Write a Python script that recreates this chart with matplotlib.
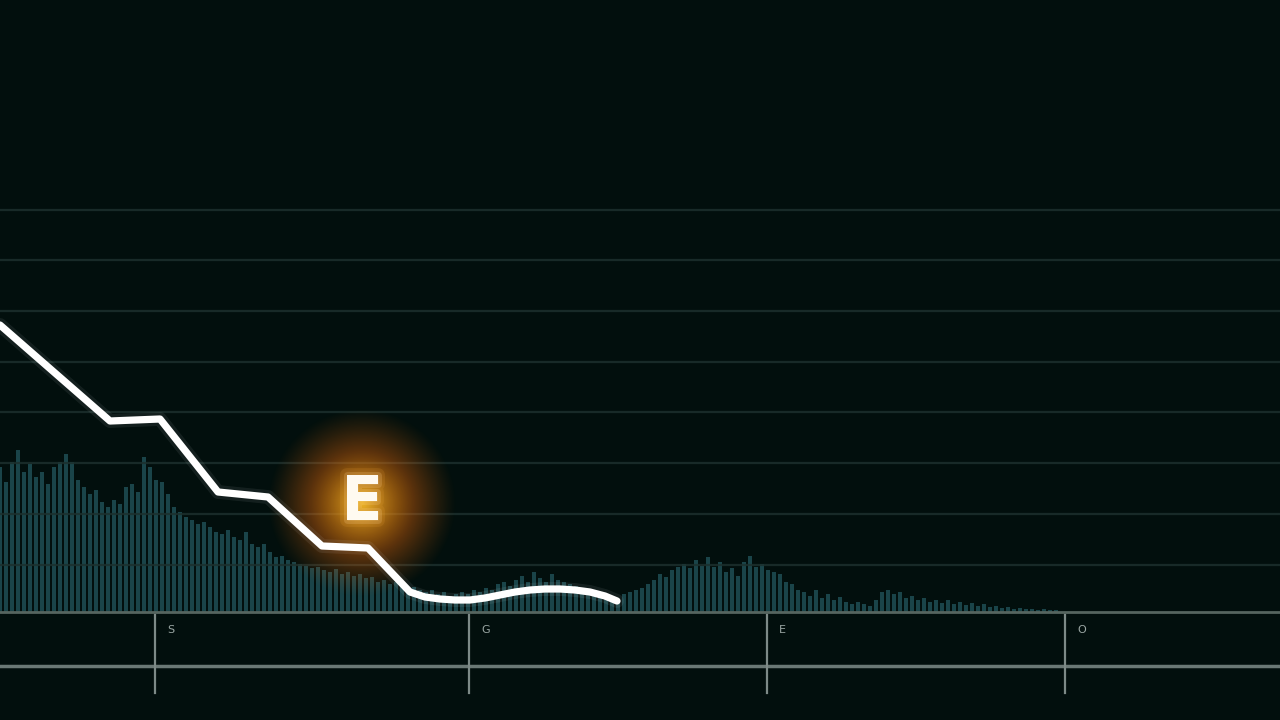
import numpy as np
import matplotlib
matplotlib.use("Agg")
import matplotlib.pyplot as plt
import matplotlib.patheffects as pe

# background histogram (bar position, height above baseline)
bar_x = list(range(0, 1062, 6))
bar_h = [145, 130, 150, 162, 140, 148, 135, 140, 128, 145, 150, 158, 150, 132, 125, 118,
         122, 110, 105, 112, 108, 125, 128, 120, 155, 145, 132, 130, 118, 105, 100, 95,
         92, 88, 90, 85, 80, 78, 82, 75, 72, 80, 68, 65, 68, 60, 55, 56, 52, 50,
         48, 46, 44, 45, 42, 40, 43, 38, 40, 36, 38, 34, 35, 30, 32, 28, 30, 26,
         24, 25, 22, 20, 22, 18, 20, 16, 18, 20, 18, 22, 20, 24, 22, 28, 30, 26,
         32, 36, 30, 40, 34, 30, 38, 32, 30, 28, 26, 24, 22, 20, 18, 16, 15, 12,
         18, 20, 22, 24, 28, 32, 38, 35, 42, 45, 48, 44, 52, 46, 55, 45, 50, 40,
         44, 36, 50, 56, 45, 48, 42, 40, 38, 30, 28, 22, 20, 16, 22, 14, 18, 12,
         15, 10, 8, 10, 8, 6, 12, 20, 22, 18, 20, 14, 16, 12, 14, 10, 12, 9,
         12, 8, 10, 7, 9, 6, 8, 5, 6, 4, 5, 3, 4, 3, 3, 2, 3, 2, 2]
bar_h = bar_h[:len(bar_x)]

# main curve
line_x = [0, 110, 160, 218, 268, 322, 368, 410, 425, 440, 455, 470, 485, 500, 515,
          530, 545, 560, 575, 590, 605, 617]
line_y = [287, 191, 193, 120, 115, 66, 64, 20, 15, 13, 12, 12, 14, 17, 20,
          22, 23, 23, 22, 20, 16, 11]

grid_y = [402, 352, 301, 250, 200, 149, 98, 47]
tick_x = [155, 469, 767, 1065]
tick_labels = ["S", "G", "E", "O"]

marker_x, marker_y, marker_label = 362, 109, "E"

bg = "#020f0d"
fig = plt.figure(figsize=(12.8, 7.2), dpi=100, facecolor=bg)
ax = fig.add_axes([0, 0, 1, 1], facecolor=bg)
ax.set_xlim(0, 1280)
ax.set_ylim(-108, 612)
ax.axis("off")

ax.bar(bar_x, bar_h, width=3.4, color="#215259", alpha=0.8, zorder=1, align="center")

for gy in grid_y:
    ax.axhline(gy, color="#1c302e", lw=1.6, alpha=0.85, zorder=2)

# orange glow around marker
r = 95
gx = np.linspace(-1, 1, 240)
X, Y = np.meshgrid(gx, gx)
d = np.sqrt(X ** 2 + Y ** 2)
glow = np.zeros((240, 240, 4))
glow[..., 0] = 0.93
glow[..., 1] = 0.42 + 0.30 * np.clip(1 - d * 1.8, 0, 1)
glow[..., 2] = 0.05 + 0.10 * np.clip(1 - d * 2.5, 0, 1)
glow[..., 3] = np.clip(1 - d, 0, 1) ** 1.2
ax.imshow(glow, extent=[marker_x - r, marker_x + r, marker_y - r, marker_y + r],
          zorder=3, aspect="auto", interpolation="bilinear")

ax.plot(line_x, line_y, color="white", lw=10, alpha=0.07, zorder=4,
        solid_joinstyle="round", solid_capstyle="round")
ax.plot(line_x, line_y, color="white", lw=5.2, zorder=5,
        solid_joinstyle="round", solid_capstyle="round")

ax.text(marker_x, marker_y, marker_label, color="#fffaf0", fontsize=44, fontweight="bold",
        family="DejaVu Sans", ha="center", va="center", zorder=6,
        path_effects=[pe.withStroke(linewidth=10, foreground="#ffb040", alpha=0.12),
                      pe.withStroke(linewidth=5, foreground="#ffd090", alpha=0.2),
                      pe.Normal()])

# bottom axis
ax.axhline(0, color="#56655f", lw=2, zorder=5)
ax.axhline(-54, color="#6a7875", lw=2.5, zorder=5)
for tx, tl in zip(tick_x, tick_labels):
    ax.plot([tx, tx], [-3, -81], color="#7d8a87", lw=1.6, zorder=5)
    ax.text(tx + 12, -18, tl, color="#9aa6a3", fontsize=8, ha="left", va="center")

fig.savefig("out.png", dpi=100, facecolor=bg)
